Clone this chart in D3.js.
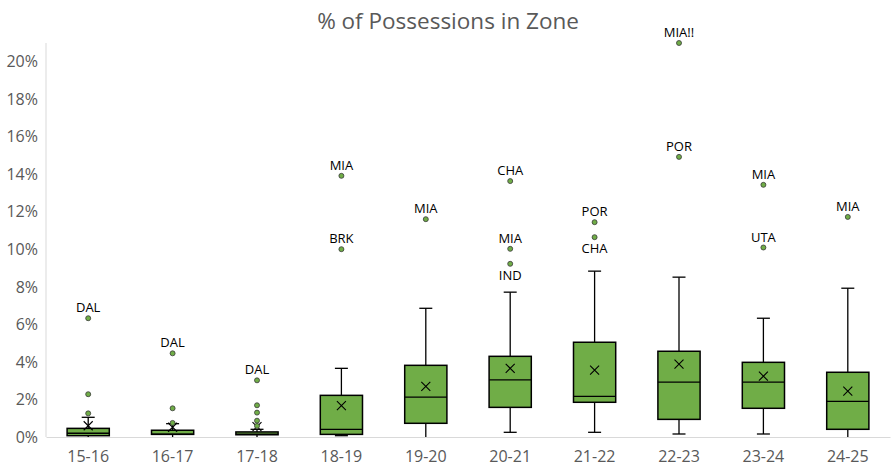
<!DOCTYPE html>
<html>
<head>
<meta charset="utf-8">
<script src="https://cdn.jsdelivr.net/npm/d3@7"></script>
<style>
  body { margin: 0; background: #fff; }
  text { font-family: "Open Sans", sans-serif; }
</style>
</head>
<body>
<div id="boxchart"></div>
<script>
var w = 892;
var h = 472;

// seasons on the x-axis
var seasons = ["15-16", "16-17", "17-18", "18-19", "19-20", "20-21", "21-22", "22-23", "23-24", "24-25"];

// box statistics, in % of possessions
var whiskerLow  = [0,    0,    0,    0.07, 0,    0.25, 0.25, 0.16, 0.16, 0];
var q1          = [0.07, 0.14, 0.12, 0.14, 0.73, 1.58, 1.85, 0.94, 1.53, 0.41];
var median      = [0.20, 0.15, 0.15, 0.41, 2.12, 3.04, 2.17, 2.92, 2.92, 1.90];
var q3          = [0.46, 0.36, 0.27, 2.22, 3.82, 4.30, 5.05, 4.57, 3.98, 3.45];
var whiskerHigh = [1.05, 0.71, 0.41, 3.66, 6.86, 7.72, 8.84, 8.52, 6.33, 7.93];
var means       = [0.60, 0.52, 0.55, 1.67, 2.70, 3.66, 3.56, 3.88, 3.24, 2.44];

// outliers: season, value, team label ("" = unlabeled)
var outlierSeason = ["15-16", "15-16", "15-16", "16-17", "16-17", "16-17",
                     "17-18", "17-18", "17-18", "17-18", "17-18",
                     "18-19", "18-19", "19-20", "20-21", "20-21", "20-21",
                     "21-22", "21-22", "22-23", "22-23", "23-24", "23-24", "24-25"];
var outlierValue  = [1.26, 2.28, 6.33, 0.75, 1.53, 4.46,
                     0.59, 0.87, 1.30, 1.69, 3.02,
                     10.01, 13.92, 11.61, 9.23, 10.03, 13.64,
                     10.65, 11.45, 14.93, 21.0, 10.10, 13.44, 11.73];
var outlierLabel  = ["", "", "DAL", "", "", "DAL",
                     "", "", "", "", "DAL",
                     "BRK", "MIA", "MIA", "IND", "MIA", "CHA",
                     "CHA", "POR", "POR", "MIA!!", "UTA", "MIA", "MIA"];
// labels that sit under their point
var labelsBelow = ["20-21 IND", "21-22 CHA"];

var yTicks = [0, 2, 4, 6, 8, 10, 12, 14, 16, 18, 20];

var boxColor = "#70ad47",
    axisColor = "#d9d9d9",
    textColor = "#595959";

var svg = d3.select("#boxchart")
    .append("svg")
    .attr("width", w)
    .attr("height", h);

var margin = {top: 43, right: 2, bottom: 35, left: 46},
    width = w - margin.left - margin.right,
    height = h - margin.top - margin.bottom,
    g = svg.append("g").attr("transform", "translate(" + margin.left + "," + margin.top + ")");

var x = d3.scaleBand()
    .domain(seasons)
    .range([0, width]);

var y = d3.scaleLinear()
    .domain([0, 21])
    .range([height, 0]);

var boxW = x.bandwidth() * 0.5,
    capW = 13;

// title
svg.append("text")
    .attr("x", 448)
    .attr("y", 29)
    .attr("text-anchor", "middle")
    .attr("fill", textColor)
    .style("font-size", "22.5px")
    .text("% of Possessions in Zone");

// y-axis labels (no grid lines)
var yAxis = g.append("g")
    .call(d3.axisLeft(y).tickValues(yTicks).tickSize(0).tickPadding(8)
      .tickFormat(function(d) { return d + "%"; }));
yAxis.select(".domain").remove();
yAxis.selectAll("text").attr("fill", textColor).style("font-size", "16px");

// one group per season
var box = g.selectAll(".box")
    .data(seasons)
    .enter().append("g")
    .attr("class", "box")
    .attr("transform", function(d) { return "translate(" + (x(d) + x.bandwidth() / 2) + ",0)"; });

// whiskers
box.append("line")
    .attr("x1", 0).attr("x2", 0)
    .attr("y1", function(d, i) { return y(whiskerLow[i]); })
    .attr("y2", function(d, i) { return y(whiskerHigh[i]); })
    .attr("stroke", "#000").attr("stroke-width", 1.3);

// caps (a cap sitting on the axis is hidden by it)
[whiskerLow, whiskerHigh].forEach(function(arr) {
  box.filter(function(d, i) { return arr[i] > 0; })
    .append("line")
      .attr("x1", -capW / 2).attr("x2", capW / 2)
      .attr("y1", function(d) { return y(arr[seasons.indexOf(d)]); })
      .attr("y2", function(d) { return y(arr[seasons.indexOf(d)]); })
      .attr("stroke", "#000").attr("stroke-width", 1.3);
});

// boxes
box.append("rect")
    .attr("x", -boxW / 2)
    .attr("width", boxW)
    .attr("y", function(d, i) { return y(q3[i]); })
    .attr("height", function(d, i) { return y(q1[i]) - y(q3[i]); })
    .attr("fill", boxColor)
    .attr("stroke", "#000")
    .attr("stroke-width", 1.5);

// medians
box.append("line")
    .attr("x1", -boxW / 2).attr("x2", boxW / 2)
    .attr("y1", function(d, i) { return y(median[i]); })
    .attr("y2", function(d, i) { return y(median[i]); })
    .attr("stroke", "#000").attr("stroke-width", 1.3);

// mean markers (x)
var m = 4.5;
box.append("path")
    .attr("d", function(d, i) {
      var cy = y(means[i]);
      return "M" + (-m) + "," + (cy - m) + "L" + m + "," + (cy + m) +
             "M" + m + "," + (cy - m) + "L" + (-m) + "," + (cy + m);
    })
    .attr("stroke", "#000").attr("stroke-width", 1.1).attr("fill", "none");

// outlier points
var outliers = outlierValue.map(function(v, i) {
  return {season: outlierSeason[i], value: v, label: outlierLabel[i]};
});

g.selectAll(".outlier")
    .data(outliers)
    .enter().append("circle")
    .attr("class", "outlier")
    .attr("cx", function(d) { return x(d.season) + x.bandwidth() / 2; })
    .attr("cy", function(d) { return y(d.value); })
    .attr("r", 2.5)
    .attr("fill", boxColor)
    .attr("stroke", "#3a3a3a")
    .attr("stroke-width", 0.8);

g.selectAll(".outlabel")
    .data(outliers.filter(function(d) { return d.label; }))
    .enter().append("text")
    .attr("class", "outlabel")
    .attr("x", function(d) { return x(d.season) + x.bandwidth() / 2; })
    .attr("y", function(d) {
      var below = labelsBelow.indexOf(d.season + " " + d.label) >= 0;
      return below ? y(d.value) + 16 : y(d.value) - 6;
    })
    .attr("text-anchor", "middle")
    .attr("fill", "#000")
    .style("font-size", "13px")
    .text(function(d) { return d.label; });

// axis lines drawn last
g.append("line")
    .attr("x1", 0).attr("x2", 0).attr("y1", 0).attr("y2", height)
    .attr("stroke", axisColor).attr("stroke-width", 1);

var xAxis = g.append("g")
    .attr("transform", "translate(0," + height + ")")
    .call(d3.axisBottom(x).tickSize(0).tickPadding(14));
xAxis.select(".domain").attr("stroke", axisColor);
xAxis.selectAll("text").attr("fill", textColor).style("font-size", "16px");
</script>
</body>
</html>
